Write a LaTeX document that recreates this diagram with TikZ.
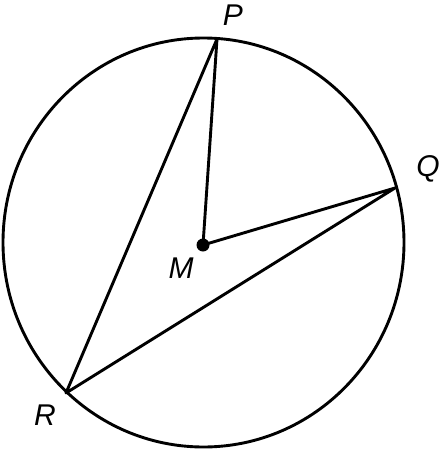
\documentclass[tikz,border=0pt]{standalone}
\usepackage{fontspec}
\setmainfont{Liberation Sans}
\begin{document}
\begin{tikzpicture}[x=1pt,y=-1pt,
  seg/.style={line width=2.9pt, line join=round, line cap=round},
  lbl/.style={font=\fontsize{30}{34}\selectfont\itshape, inner sep=0pt}]
\useasboundingbox (0,0) rectangle (440,450);
\coordinate (M) at (203,245);
\coordinate (P) at (217,39);
\coordinate (Q) at (395,188);
\coordinate (R) at (66,393);
\draw[seg] (203.5,242.5) ellipse [x radius=200.5, y radius=204.5];
\draw[seg] (R) -- (P) -- (M) -- (Q) -- cycle;
\fill (M) circle (6.5);
\node[lbl] (lP) at (233,15) {P};
\node[lbl] (lQ) at (428,169) {Q};
\node[lbl] (lR) at (45,415) {R};
\node[lbl] (lM) at (181,268) {M};
\end{tikzpicture}
\end{document}
